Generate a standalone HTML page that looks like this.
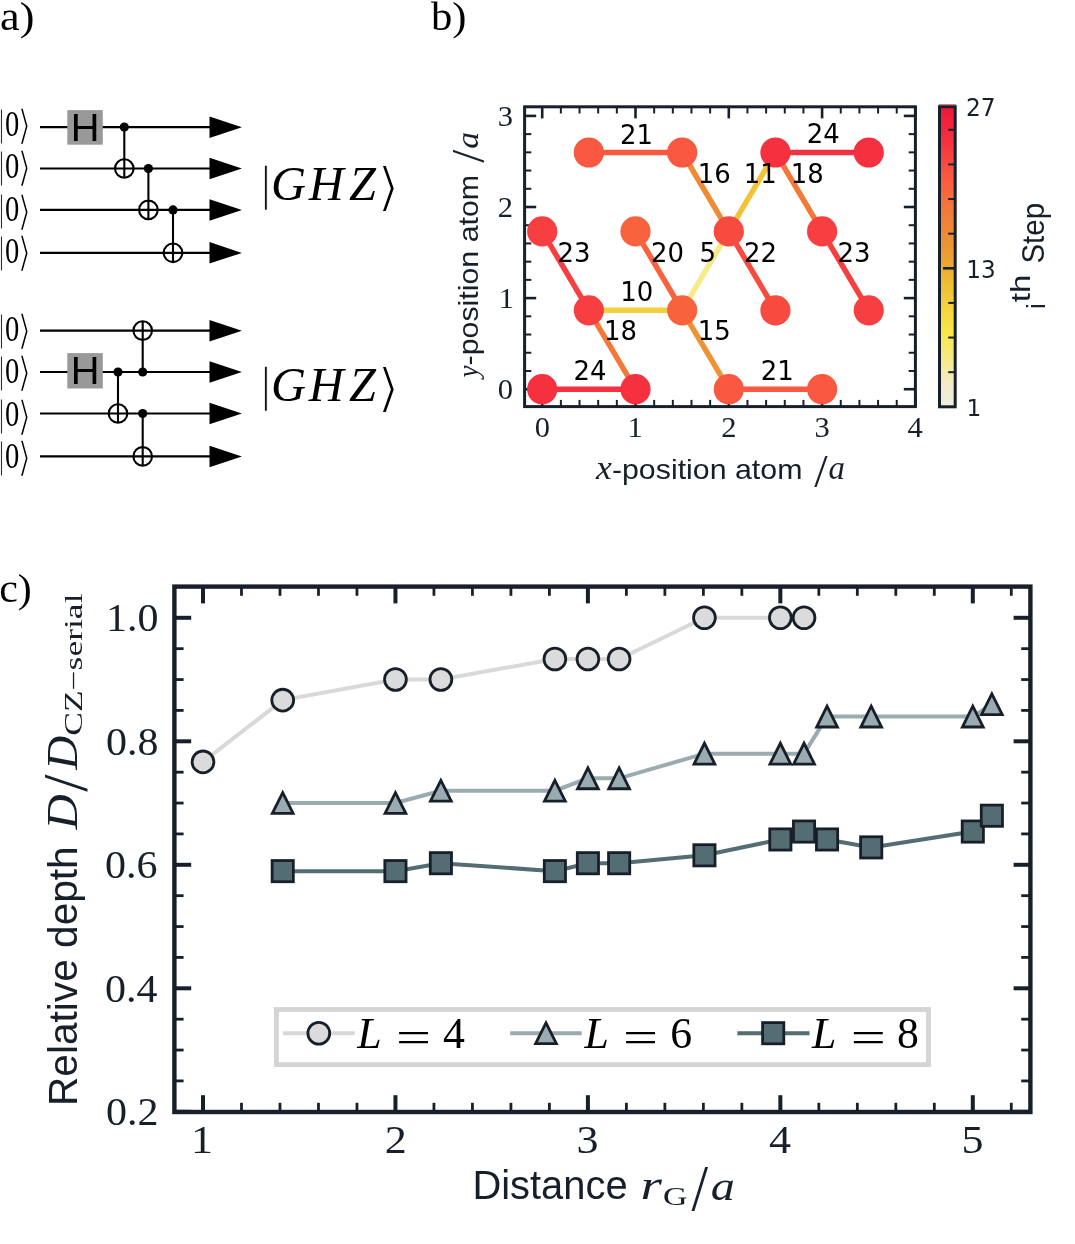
<!DOCTYPE html>
<html><head><meta charset="utf-8"><title>Figure</title>
<style>html,body{margin:0;padding:0;background:#fff;overflow:hidden;}svg{display:block;}</style></head>
<body><svg width="1075" height="1244" viewBox="0 0 1075 1244">
<rect width="1075" height="1244" fill="#fff"/>
<text transform="matrix(1.0793 0 0 1.0000 0.02 30.10)" x="0" y="0" font-family="'Liberation Serif', 'DejaVu Serif', serif" font-size="41" fill="#000">a)</text>
<text transform="matrix(1.0406 0 0 1.0000 431.00 29.80)" x="0" y="0" font-family="'Liberation Serif', 'DejaVu Serif', serif" font-size="41" fill="#000">b)</text>
<text transform="matrix(1.0250 0 0 1.0000 -0.85 601.70)" x="0" y="0" font-family="'Liberation Serif', 'DejaVu Serif', serif" font-size="41" fill="#000">c)</text>
<line x1="40.00" y1="127.10" x2="212.00" y2="127.10" stroke="#000" stroke-width="2.2" stroke-linecap="butt"/>
<polygon points="209.5,116.40 241.9,127.20 209.5,137.90" fill="#000"/>
<line x1="40.00" y1="168.50" x2="212.00" y2="168.50" stroke="#000" stroke-width="2.2" stroke-linecap="butt"/>
<polygon points="209.5,157.80 241.9,168.60 209.5,179.30" fill="#000"/>
<line x1="40.00" y1="209.90" x2="212.00" y2="209.90" stroke="#000" stroke-width="2.2" stroke-linecap="butt"/>
<polygon points="209.5,199.20 241.9,210.00 209.5,220.70" fill="#000"/>
<line x1="40.00" y1="252.80" x2="212.00" y2="252.80" stroke="#000" stroke-width="2.2" stroke-linecap="butt"/>
<polygon points="209.5,242.10 241.9,252.90 209.5,263.60" fill="#000"/>
<text transform="matrix(1.0710 0 0 1.0710 -2.21 135.90)" x="0" y="0" font-family="'Liberation Serif', 'DejaVu Serif', serif" font-size="36" fill="#000" stroke="#fff" stroke-width="0.9">|</text>
<text transform="matrix(0.7937 0 0 0.9667 4.91 135.80)" x="0" y="0" font-family="'Liberation Serif', 'DejaVu Serif', serif" font-size="36" fill="#000">0</text>
<text transform="matrix(1.0167 0 0 1.1367 17.13 139.15)" x="0" y="0" font-family="'Liberation Serif', 'DejaVu Serif', serif" font-size="36" fill="#000" stroke="#fff" stroke-width="1.3">⟩</text>
<text transform="matrix(1.0710 0 0 1.0710 -2.21 177.60)" x="0" y="0" font-family="'Liberation Serif', 'DejaVu Serif', serif" font-size="36" fill="#000" stroke="#fff" stroke-width="0.9">|</text>
<text transform="matrix(0.7937 0 0 0.9667 4.91 177.50)" x="0" y="0" font-family="'Liberation Serif', 'DejaVu Serif', serif" font-size="36" fill="#000">0</text>
<text transform="matrix(1.0167 0 0 1.1367 17.13 180.85)" x="0" y="0" font-family="'Liberation Serif', 'DejaVu Serif', serif" font-size="36" fill="#000" stroke="#fff" stroke-width="1.3">⟩</text>
<text transform="matrix(1.0710 0 0 1.0710 -2.21 221.30)" x="0" y="0" font-family="'Liberation Serif', 'DejaVu Serif', serif" font-size="36" fill="#000" stroke="#fff" stroke-width="0.9">|</text>
<text transform="matrix(0.7937 0 0 0.9667 4.91 221.20)" x="0" y="0" font-family="'Liberation Serif', 'DejaVu Serif', serif" font-size="36" fill="#000">0</text>
<text transform="matrix(1.0167 0 0 1.1367 17.13 224.55)" x="0" y="0" font-family="'Liberation Serif', 'DejaVu Serif', serif" font-size="36" fill="#000" stroke="#fff" stroke-width="1.3">⟩</text>
<text transform="matrix(1.0710 0 0 1.0710 -2.21 263.20)" x="0" y="0" font-family="'Liberation Serif', 'DejaVu Serif', serif" font-size="36" fill="#000" stroke="#fff" stroke-width="0.9">|</text>
<text transform="matrix(0.7937 0 0 0.9667 4.91 263.10)" x="0" y="0" font-family="'Liberation Serif', 'DejaVu Serif', serif" font-size="36" fill="#000">0</text>
<text transform="matrix(1.0167 0 0 1.1367 17.13 266.45)" x="0" y="0" font-family="'Liberation Serif', 'DejaVu Serif', serif" font-size="36" fill="#000" stroke="#fff" stroke-width="1.3">⟩</text>
<rect x="67.3" y="110.10" width="35.5" height="34.60" fill="#999999"/>
<text transform="matrix(1.0476 0 0 1.0000 70.86 141.00)" x="0" y="0" font-family="'Liberation Sans', 'DejaVu Sans', sans-serif" font-size="38" fill="#000">H</text>
<line x1="124.30" y1="127.10" x2="124.30" y2="177.80" stroke="#000" stroke-width="2.1" stroke-linecap="butt"/>
<circle cx="124.3" cy="127.10" r="4.6" fill="#000"/>
<circle cx="124.3" cy="168.50" r="9.3" fill="none" stroke="#000" stroke-width="2.1"/>
<line x1="148.40" y1="168.50" x2="148.40" y2="219.20" stroke="#000" stroke-width="2.1" stroke-linecap="butt"/>
<circle cx="148.4" cy="168.50" r="4.6" fill="#000"/>
<circle cx="148.4" cy="209.90" r="9.3" fill="none" stroke="#000" stroke-width="2.1"/>
<line x1="173.00" y1="209.90" x2="173.00" y2="262.10" stroke="#000" stroke-width="2.1" stroke-linecap="butt"/>
<circle cx="173" cy="209.90" r="4.6" fill="#000"/>
<circle cx="173" cy="252.80" r="9.3" fill="none" stroke="#000" stroke-width="2.1"/>
<text transform="matrix(1.0227 0 0 1.0227 260.91 200.27)" x="0" y="0" font-family="'Liberation Serif', 'DejaVu Serif', serif" font-size="48" fill="#000" stroke="#fff" stroke-width="0.7">|</text>
<text transform="matrix(1.0094 0 0 1.0094 0 200.00)" y="0" font-family="'Liberation Serif', 'DejaVu Serif', serif" font-size="48" fill="#000"><tspan x="268.46" font-style="italic">G</tspan><tspan x="305.93" font-style="italic">H</tspan><tspan x="345.75" font-style="italic">Z</tspan></text>
<text transform="matrix(1.2500 0 0 1.0976 376.65 205.01)" x="0" y="0" font-family="'Liberation Serif', 'DejaVu Serif', serif" font-size="48" fill="#000" stroke="#fff" stroke-width="1.6">⟩</text>
<line x1="40.00" y1="330.60" x2="212.00" y2="330.60" stroke="#000" stroke-width="2.2" stroke-linecap="butt"/>
<polygon points="209.5,319.90 241.9,330.70 209.5,341.40" fill="#000"/>
<line x1="40.00" y1="372.00" x2="212.00" y2="372.00" stroke="#000" stroke-width="2.2" stroke-linecap="butt"/>
<polygon points="209.5,361.30 241.9,372.10 209.5,382.80" fill="#000"/>
<line x1="40.00" y1="413.50" x2="212.00" y2="413.50" stroke="#000" stroke-width="2.2" stroke-linecap="butt"/>
<polygon points="209.5,402.80 241.9,413.60 209.5,424.30" fill="#000"/>
<line x1="40.00" y1="456.40" x2="212.00" y2="456.40" stroke="#000" stroke-width="2.2" stroke-linecap="butt"/>
<polygon points="209.5,445.70 241.9,456.50 209.5,467.20" fill="#000"/>
<text transform="matrix(1.0710 0 0 1.0710 -2.21 340.90)" x="0" y="0" font-family="'Liberation Serif', 'DejaVu Serif', serif" font-size="36" fill="#000" stroke="#fff" stroke-width="0.9">|</text>
<text transform="matrix(0.7937 0 0 0.9667 4.91 340.80)" x="0" y="0" font-family="'Liberation Serif', 'DejaVu Serif', serif" font-size="36" fill="#000">0</text>
<text transform="matrix(1.0167 0 0 1.1367 17.13 344.15)" x="0" y="0" font-family="'Liberation Serif', 'DejaVu Serif', serif" font-size="36" fill="#000" stroke="#fff" stroke-width="1.3">⟩</text>
<text transform="matrix(1.0710 0 0 1.0710 -2.21 382.60)" x="0" y="0" font-family="'Liberation Serif', 'DejaVu Serif', serif" font-size="36" fill="#000" stroke="#fff" stroke-width="0.9">|</text>
<text transform="matrix(0.7937 0 0 0.9667 4.91 382.50)" x="0" y="0" font-family="'Liberation Serif', 'DejaVu Serif', serif" font-size="36" fill="#000">0</text>
<text transform="matrix(1.0167 0 0 1.1367 17.13 385.85)" x="0" y="0" font-family="'Liberation Serif', 'DejaVu Serif', serif" font-size="36" fill="#000" stroke="#fff" stroke-width="1.3">⟩</text>
<text transform="matrix(1.0710 0 0 1.0710 -2.21 426.30)" x="0" y="0" font-family="'Liberation Serif', 'DejaVu Serif', serif" font-size="36" fill="#000" stroke="#fff" stroke-width="0.9">|</text>
<text transform="matrix(0.7937 0 0 0.9667 4.91 426.20)" x="0" y="0" font-family="'Liberation Serif', 'DejaVu Serif', serif" font-size="36" fill="#000">0</text>
<text transform="matrix(1.0167 0 0 1.1367 17.13 429.55)" x="0" y="0" font-family="'Liberation Serif', 'DejaVu Serif', serif" font-size="36" fill="#000" stroke="#fff" stroke-width="1.3">⟩</text>
<text transform="matrix(1.0710 0 0 1.0710 -2.21 468.20)" x="0" y="0" font-family="'Liberation Serif', 'DejaVu Serif', serif" font-size="36" fill="#000" stroke="#fff" stroke-width="0.9">|</text>
<text transform="matrix(0.7937 0 0 0.9667 4.91 468.10)" x="0" y="0" font-family="'Liberation Serif', 'DejaVu Serif', serif" font-size="36" fill="#000">0</text>
<text transform="matrix(1.0167 0 0 1.1367 17.13 471.45)" x="0" y="0" font-family="'Liberation Serif', 'DejaVu Serif', serif" font-size="36" fill="#000" stroke="#fff" stroke-width="1.3">⟩</text>
<rect x="67.3" y="353.10" width="35.5" height="35.40" fill="#999999"/>
<text transform="matrix(1.0476 0 0 1.0000 70.86 384.40)" x="0" y="0" font-family="'Liberation Sans', 'DejaVu Sans', sans-serif" font-size="38" fill="#000">H</text>
<line x1="118.00" y1="372.00" x2="118.00" y2="422.80" stroke="#000" stroke-width="2.1" stroke-linecap="butt"/>
<circle cx="118" cy="372.00" r="4.6" fill="#000"/>
<circle cx="118" cy="413.50" r="9.3" fill="none" stroke="#000" stroke-width="2.1"/>
<line x1="142.70" y1="372.00" x2="142.70" y2="321.30" stroke="#000" stroke-width="2.1" stroke-linecap="butt"/>
<circle cx="142.7" cy="372.00" r="4.6" fill="#000"/>
<circle cx="142.7" cy="330.60" r="9.3" fill="none" stroke="#000" stroke-width="2.1"/>
<line x1="142.70" y1="413.50" x2="142.70" y2="465.70" stroke="#000" stroke-width="2.1" stroke-linecap="butt"/>
<circle cx="142.7" cy="413.50" r="4.6" fill="#000"/>
<circle cx="142.7" cy="456.40" r="9.3" fill="none" stroke="#000" stroke-width="2.1"/>
<text transform="matrix(1.0227 0 0 1.0227 260.91 401.07)" x="0" y="0" font-family="'Liberation Serif', 'DejaVu Serif', serif" font-size="48" fill="#000" stroke="#fff" stroke-width="0.7">|</text>
<text transform="matrix(1.0094 0 0 1.0094 0 400.80)" y="0" font-family="'Liberation Serif', 'DejaVu Serif', serif" font-size="48" fill="#000"><tspan x="268.46" font-style="italic">G</tspan><tspan x="305.93" font-style="italic">H</tspan><tspan x="345.75" font-style="italic">Z</tspan></text>
<text transform="matrix(1.2500 0 0 1.0976 376.65 405.81)" x="0" y="0" font-family="'Liberation Serif', 'DejaVu Serif', serif" font-size="48" fill="#000" stroke="#fff" stroke-width="1.6">⟩</text>
<line x1="542.20" y1="406.60" x2="542.20" y2="395.00" stroke="#17202a" stroke-width="2.6" stroke-linecap="butt"/>
<line x1="542.20" y1="106.80" x2="542.20" y2="118.40" stroke="#17202a" stroke-width="2.6" stroke-linecap="butt"/>
<line x1="560.86" y1="406.60" x2="560.86" y2="399.90" stroke="#17202a" stroke-width="2" stroke-linecap="butt"/>
<line x1="560.86" y1="106.80" x2="560.86" y2="113.50" stroke="#17202a" stroke-width="2" stroke-linecap="butt"/>
<line x1="579.52" y1="406.60" x2="579.52" y2="399.90" stroke="#17202a" stroke-width="2" stroke-linecap="butt"/>
<line x1="579.52" y1="106.80" x2="579.52" y2="113.50" stroke="#17202a" stroke-width="2" stroke-linecap="butt"/>
<line x1="598.18" y1="406.60" x2="598.18" y2="399.90" stroke="#17202a" stroke-width="2" stroke-linecap="butt"/>
<line x1="598.18" y1="106.80" x2="598.18" y2="113.50" stroke="#17202a" stroke-width="2" stroke-linecap="butt"/>
<line x1="616.84" y1="406.60" x2="616.84" y2="399.90" stroke="#17202a" stroke-width="2" stroke-linecap="butt"/>
<line x1="616.84" y1="106.80" x2="616.84" y2="113.50" stroke="#17202a" stroke-width="2" stroke-linecap="butt"/>
<line x1="635.50" y1="406.60" x2="635.50" y2="395.00" stroke="#17202a" stroke-width="2.6" stroke-linecap="butt"/>
<line x1="635.50" y1="106.80" x2="635.50" y2="118.40" stroke="#17202a" stroke-width="2.6" stroke-linecap="butt"/>
<line x1="654.16" y1="406.60" x2="654.16" y2="399.90" stroke="#17202a" stroke-width="2" stroke-linecap="butt"/>
<line x1="654.16" y1="106.80" x2="654.16" y2="113.50" stroke="#17202a" stroke-width="2" stroke-linecap="butt"/>
<line x1="672.82" y1="406.60" x2="672.82" y2="399.90" stroke="#17202a" stroke-width="2" stroke-linecap="butt"/>
<line x1="672.82" y1="106.80" x2="672.82" y2="113.50" stroke="#17202a" stroke-width="2" stroke-linecap="butt"/>
<line x1="691.48" y1="406.60" x2="691.48" y2="399.90" stroke="#17202a" stroke-width="2" stroke-linecap="butt"/>
<line x1="691.48" y1="106.80" x2="691.48" y2="113.50" stroke="#17202a" stroke-width="2" stroke-linecap="butt"/>
<line x1="710.14" y1="406.60" x2="710.14" y2="399.90" stroke="#17202a" stroke-width="2" stroke-linecap="butt"/>
<line x1="710.14" y1="106.80" x2="710.14" y2="113.50" stroke="#17202a" stroke-width="2" stroke-linecap="butt"/>
<line x1="728.80" y1="406.60" x2="728.80" y2="395.00" stroke="#17202a" stroke-width="2.6" stroke-linecap="butt"/>
<line x1="728.80" y1="106.80" x2="728.80" y2="118.40" stroke="#17202a" stroke-width="2.6" stroke-linecap="butt"/>
<line x1="747.46" y1="406.60" x2="747.46" y2="399.90" stroke="#17202a" stroke-width="2" stroke-linecap="butt"/>
<line x1="747.46" y1="106.80" x2="747.46" y2="113.50" stroke="#17202a" stroke-width="2" stroke-linecap="butt"/>
<line x1="766.12" y1="406.60" x2="766.12" y2="399.90" stroke="#17202a" stroke-width="2" stroke-linecap="butt"/>
<line x1="766.12" y1="106.80" x2="766.12" y2="113.50" stroke="#17202a" stroke-width="2" stroke-linecap="butt"/>
<line x1="784.78" y1="406.60" x2="784.78" y2="399.90" stroke="#17202a" stroke-width="2" stroke-linecap="butt"/>
<line x1="784.78" y1="106.80" x2="784.78" y2="113.50" stroke="#17202a" stroke-width="2" stroke-linecap="butt"/>
<line x1="803.44" y1="406.60" x2="803.44" y2="399.90" stroke="#17202a" stroke-width="2" stroke-linecap="butt"/>
<line x1="803.44" y1="106.80" x2="803.44" y2="113.50" stroke="#17202a" stroke-width="2" stroke-linecap="butt"/>
<line x1="822.10" y1="406.60" x2="822.10" y2="395.00" stroke="#17202a" stroke-width="2.6" stroke-linecap="butt"/>
<line x1="822.10" y1="106.80" x2="822.10" y2="118.40" stroke="#17202a" stroke-width="2.6" stroke-linecap="butt"/>
<line x1="840.76" y1="406.60" x2="840.76" y2="399.90" stroke="#17202a" stroke-width="2" stroke-linecap="butt"/>
<line x1="840.76" y1="106.80" x2="840.76" y2="113.50" stroke="#17202a" stroke-width="2" stroke-linecap="butt"/>
<line x1="859.42" y1="406.60" x2="859.42" y2="399.90" stroke="#17202a" stroke-width="2" stroke-linecap="butt"/>
<line x1="859.42" y1="106.80" x2="859.42" y2="113.50" stroke="#17202a" stroke-width="2" stroke-linecap="butt"/>
<line x1="878.08" y1="406.60" x2="878.08" y2="399.90" stroke="#17202a" stroke-width="2" stroke-linecap="butt"/>
<line x1="878.08" y1="106.80" x2="878.08" y2="113.50" stroke="#17202a" stroke-width="2" stroke-linecap="butt"/>
<line x1="896.74" y1="406.60" x2="896.74" y2="399.90" stroke="#17202a" stroke-width="2" stroke-linecap="butt"/>
<line x1="896.74" y1="106.80" x2="896.74" y2="113.50" stroke="#17202a" stroke-width="2" stroke-linecap="butt"/>
<line x1="915.40" y1="406.60" x2="915.40" y2="395.00" stroke="#17202a" stroke-width="2.6" stroke-linecap="butt"/>
<line x1="915.40" y1="106.80" x2="915.40" y2="118.40" stroke="#17202a" stroke-width="2.6" stroke-linecap="butt"/>
<line x1="524.60" y1="389.20" x2="536.20" y2="389.20" stroke="#17202a" stroke-width="2.6" stroke-linecap="butt"/>
<line x1="915.40" y1="389.20" x2="903.80" y2="389.20" stroke="#17202a" stroke-width="2.6" stroke-linecap="butt"/>
<line x1="524.60" y1="370.98" x2="531.30" y2="370.98" stroke="#17202a" stroke-width="2" stroke-linecap="butt"/>
<line x1="915.40" y1="370.98" x2="908.70" y2="370.98" stroke="#17202a" stroke-width="2" stroke-linecap="butt"/>
<line x1="524.60" y1="352.76" x2="531.30" y2="352.76" stroke="#17202a" stroke-width="2" stroke-linecap="butt"/>
<line x1="915.40" y1="352.76" x2="908.70" y2="352.76" stroke="#17202a" stroke-width="2" stroke-linecap="butt"/>
<line x1="524.60" y1="334.54" x2="531.30" y2="334.54" stroke="#17202a" stroke-width="2" stroke-linecap="butt"/>
<line x1="915.40" y1="334.54" x2="908.70" y2="334.54" stroke="#17202a" stroke-width="2" stroke-linecap="butt"/>
<line x1="524.60" y1="316.32" x2="531.30" y2="316.32" stroke="#17202a" stroke-width="2" stroke-linecap="butt"/>
<line x1="915.40" y1="316.32" x2="908.70" y2="316.32" stroke="#17202a" stroke-width="2" stroke-linecap="butt"/>
<line x1="524.60" y1="298.10" x2="536.20" y2="298.10" stroke="#17202a" stroke-width="2.6" stroke-linecap="butt"/>
<line x1="915.40" y1="298.10" x2="903.80" y2="298.10" stroke="#17202a" stroke-width="2.6" stroke-linecap="butt"/>
<line x1="524.60" y1="279.88" x2="531.30" y2="279.88" stroke="#17202a" stroke-width="2" stroke-linecap="butt"/>
<line x1="915.40" y1="279.88" x2="908.70" y2="279.88" stroke="#17202a" stroke-width="2" stroke-linecap="butt"/>
<line x1="524.60" y1="261.66" x2="531.30" y2="261.66" stroke="#17202a" stroke-width="2" stroke-linecap="butt"/>
<line x1="915.40" y1="261.66" x2="908.70" y2="261.66" stroke="#17202a" stroke-width="2" stroke-linecap="butt"/>
<line x1="524.60" y1="243.44" x2="531.30" y2="243.44" stroke="#17202a" stroke-width="2" stroke-linecap="butt"/>
<line x1="915.40" y1="243.44" x2="908.70" y2="243.44" stroke="#17202a" stroke-width="2" stroke-linecap="butt"/>
<line x1="524.60" y1="225.22" x2="531.30" y2="225.22" stroke="#17202a" stroke-width="2" stroke-linecap="butt"/>
<line x1="915.40" y1="225.22" x2="908.70" y2="225.22" stroke="#17202a" stroke-width="2" stroke-linecap="butt"/>
<line x1="524.60" y1="207.00" x2="536.20" y2="207.00" stroke="#17202a" stroke-width="2.6" stroke-linecap="butt"/>
<line x1="915.40" y1="207.00" x2="903.80" y2="207.00" stroke="#17202a" stroke-width="2.6" stroke-linecap="butt"/>
<line x1="524.60" y1="188.78" x2="531.30" y2="188.78" stroke="#17202a" stroke-width="2" stroke-linecap="butt"/>
<line x1="915.40" y1="188.78" x2="908.70" y2="188.78" stroke="#17202a" stroke-width="2" stroke-linecap="butt"/>
<line x1="524.60" y1="170.56" x2="531.30" y2="170.56" stroke="#17202a" stroke-width="2" stroke-linecap="butt"/>
<line x1="915.40" y1="170.56" x2="908.70" y2="170.56" stroke="#17202a" stroke-width="2" stroke-linecap="butt"/>
<line x1="524.60" y1="152.34" x2="531.30" y2="152.34" stroke="#17202a" stroke-width="2" stroke-linecap="butt"/>
<line x1="915.40" y1="152.34" x2="908.70" y2="152.34" stroke="#17202a" stroke-width="2" stroke-linecap="butt"/>
<line x1="524.60" y1="134.12" x2="531.30" y2="134.12" stroke="#17202a" stroke-width="2" stroke-linecap="butt"/>
<line x1="915.40" y1="134.12" x2="908.70" y2="134.12" stroke="#17202a" stroke-width="2" stroke-linecap="butt"/>
<line x1="524.60" y1="115.90" x2="536.20" y2="115.90" stroke="#17202a" stroke-width="2.6" stroke-linecap="butt"/>
<line x1="915.40" y1="115.90" x2="903.80" y2="115.90" stroke="#17202a" stroke-width="2.6" stroke-linecap="butt"/>
<rect x="524.6" y="106.8" width="390.80" height="299.80" fill="none" stroke="#17202a" stroke-width="3"/>
<line x1="588.85" y1="152.52" x2="682.15" y2="152.52" stroke="#fa5840" stroke-width="5.5" stroke-linecap="butt"/>
<line x1="682.15" y1="152.52" x2="728.80" y2="231.41" stroke="#ee8b35" stroke-width="5.5" stroke-linecap="butt"/>
<line x1="728.80" y1="231.41" x2="775.45" y2="152.52" stroke="#f1c338" stroke-width="5.5" stroke-linecap="butt"/>
<line x1="775.45" y1="152.52" x2="868.75" y2="152.52" stroke="#f53140" stroke-width="5.5" stroke-linecap="butt"/>
<line x1="775.45" y1="152.52" x2="822.10" y2="231.41" stroke="#f37938" stroke-width="5.5" stroke-linecap="butt"/>
<line x1="542.20" y1="231.41" x2="588.85" y2="310.31" stroke="#f73e40" stroke-width="5.5" stroke-linecap="butt"/>
<line x1="635.50" y1="231.41" x2="682.15" y2="310.31" stroke="#f8633d" stroke-width="5.5" stroke-linecap="butt"/>
<line x1="682.15" y1="310.31" x2="728.80" y2="231.41" stroke="#f6ea89" stroke-width="5.5" stroke-linecap="butt"/>
<line x1="728.80" y1="231.41" x2="775.45" y2="310.31" stroke="#f84b40" stroke-width="5.5" stroke-linecap="butt"/>
<line x1="822.10" y1="231.41" x2="868.75" y2="310.31" stroke="#f73e40" stroke-width="5.5" stroke-linecap="butt"/>
<line x1="588.85" y1="310.31" x2="682.15" y2="310.31" stroke="#f4cf3d" stroke-width="5.5" stroke-linecap="butt"/>
<line x1="588.85" y1="310.31" x2="635.50" y2="389.20" stroke="#f37938" stroke-width="5.5" stroke-linecap="butt"/>
<line x1="682.15" y1="310.31" x2="728.80" y2="389.20" stroke="#ec9434" stroke-width="5.5" stroke-linecap="butt"/>
<line x1="542.20" y1="389.20" x2="635.50" y2="389.20" stroke="#f53140" stroke-width="5.5" stroke-linecap="butt"/>
<line x1="728.80" y1="389.20" x2="822.10" y2="389.20" stroke="#fa5840" stroke-width="5.5" stroke-linecap="butt"/>
<circle cx="588.85" cy="152.52" r="15.1" fill="#fa5840"/>
<circle cx="682.15" cy="152.52" r="15.1" fill="#fa5840"/>
<circle cx="728.80" cy="231.41" r="15.1" fill="#f84b40"/>
<circle cx="775.45" cy="152.52" r="15.1" fill="#f53140"/>
<circle cx="868.75" cy="152.52" r="15.1" fill="#f53140"/>
<circle cx="822.10" cy="231.41" r="15.1" fill="#f73e40"/>
<circle cx="542.20" cy="231.41" r="15.1" fill="#f73e40"/>
<circle cx="588.85" cy="310.31" r="15.1" fill="#f73e40"/>
<circle cx="635.50" cy="231.41" r="15.1" fill="#f8633d"/>
<circle cx="682.15" cy="310.31" r="15.1" fill="#f8633d"/>
<circle cx="775.45" cy="310.31" r="15.1" fill="#f84b40"/>
<circle cx="868.75" cy="310.31" r="15.1" fill="#f73e40"/>
<circle cx="635.50" cy="389.20" r="15.1" fill="#f53140"/>
<circle cx="728.80" cy="389.20" r="15.1" fill="#fa5840"/>
<circle cx="542.20" cy="389.20" r="15.1" fill="#f53140"/>
<circle cx="822.10" cy="389.20" r="15.1" fill="#fa5840"/>
<text transform="matrix(0.9500 0 0 1.0000 620.10 143.70)" x="0" y="0" font-family="'DejaVu Sans', 'Liberation Sans', sans-serif" font-size="27.3" fill="#000">21</text>
<text transform="matrix(0.9500 0 0 1.0000 697.75 182.60)" x="0" y="0" font-family="'DejaVu Sans', 'Liberation Sans', sans-serif" font-size="27.3" fill="#000">16</text>
<text transform="matrix(0.9500 0 0 1.0000 743.75 182.60)" x="0" y="0" font-family="'DejaVu Sans', 'Liberation Sans', sans-serif" font-size="27.3" fill="#000">11</text>
<text transform="matrix(0.9500 0 0 1.0000 790.65 182.60)" x="0" y="0" font-family="'DejaVu Sans', 'Liberation Sans', sans-serif" font-size="27.3" fill="#000">18</text>
<text transform="matrix(0.9500 0 0 1.0000 806.80 143.40)" x="0" y="0" font-family="'DejaVu Sans', 'Liberation Sans', sans-serif" font-size="27.3" fill="#000">24</text>
<text transform="matrix(0.9500 0 0 1.0000 557.60 261.60)" x="0" y="0" font-family="'DejaVu Sans', 'Liberation Sans', sans-serif" font-size="27.3" fill="#000">23</text>
<text transform="matrix(0.9500 0 0 1.0000 651.00 261.60)" x="0" y="0" font-family="'DejaVu Sans', 'Liberation Sans', sans-serif" font-size="27.3" fill="#000">20</text>
<text transform="matrix(0.9500 0 0 1.0000 699.50 261.80)" x="0" y="0" font-family="'DejaVu Sans', 'Liberation Sans', sans-serif" font-size="27.3" fill="#000">5</text>
<text transform="matrix(0.9500 0 0 1.0000 744.10 261.60)" x="0" y="0" font-family="'DejaVu Sans', 'Liberation Sans', sans-serif" font-size="27.3" fill="#000">22</text>
<text transform="matrix(0.9500 0 0 1.0000 837.50 261.60)" x="0" y="0" font-family="'DejaVu Sans', 'Liberation Sans', sans-serif" font-size="27.3" fill="#000">23</text>
<text transform="matrix(0.9500 0 0 1.0000 620.25 301.00)" x="0" y="0" font-family="'DejaVu Sans', 'Liberation Sans', sans-serif" font-size="27.3" fill="#000">10</text>
<text transform="matrix(0.9500 0 0 1.0000 604.05 340.40)" x="0" y="0" font-family="'DejaVu Sans', 'Liberation Sans', sans-serif" font-size="27.3" fill="#000">18</text>
<text transform="matrix(0.9500 0 0 1.0000 697.65 340.40)" x="0" y="0" font-family="'DejaVu Sans', 'Liberation Sans', sans-serif" font-size="27.3" fill="#000">15</text>
<text transform="matrix(0.9500 0 0 1.0000 573.60 379.60)" x="0" y="0" font-family="'DejaVu Sans', 'Liberation Sans', sans-serif" font-size="27.3" fill="#000">24</text>
<text transform="matrix(0.9500 0 0 1.0000 760.70 379.60)" x="0" y="0" font-family="'DejaVu Sans', 'Liberation Sans', sans-serif" font-size="27.3" fill="#000">21</text>
<text transform="matrix(1.0700 0 0 1.0000 534.71 436.80)" x="0" y="0" font-family="'Liberation Serif', 'DejaVu Serif', serif" font-size="28.5" fill="#17202a">0</text>
<text transform="matrix(1.0700 0 0 1.0000 627.48 436.80)" x="0" y="0" font-family="'Liberation Serif', 'DejaVu Serif', serif" font-size="28.5" fill="#17202a">1</text>
<text transform="matrix(1.0700 0 0 1.0000 721.31 436.80)" x="0" y="0" font-family="'Liberation Serif', 'DejaVu Serif', serif" font-size="28.5" fill="#17202a">2</text>
<text transform="matrix(1.0700 0 0 1.0000 814.61 436.80)" x="0" y="0" font-family="'Liberation Serif', 'DejaVu Serif', serif" font-size="28.5" fill="#17202a">3</text>
<text transform="matrix(1.0700 0 0 1.0000 907.38 436.80)" x="0" y="0" font-family="'Liberation Serif', 'DejaVu Serif', serif" font-size="28.5" fill="#17202a">4</text>
<text transform="matrix(1.0700 0 0 1.0000 497.69 399.00)" x="0" y="0" font-family="'Liberation Serif', 'DejaVu Serif', serif" font-size="28.5" fill="#17202a">0</text>
<text transform="matrix(1.0700 0 0 1.0000 498.76 307.90)" x="0" y="0" font-family="'Liberation Serif', 'DejaVu Serif', serif" font-size="28.5" fill="#17202a">1</text>
<text transform="matrix(1.0700 0 0 1.0000 497.69 216.80)" x="0" y="0" font-family="'Liberation Serif', 'DejaVu Serif', serif" font-size="28.5" fill="#17202a">2</text>
<text transform="matrix(1.0700 0 0 1.0000 497.69 125.70)" x="0" y="0" font-family="'Liberation Serif', 'DejaVu Serif', serif" font-size="28.5" fill="#17202a">3</text>
<text fill="#17202a" xml:space="preserve"><tspan x="596.00" y="479.30" font-family="'Liberation Serif', 'DejaVu Serif', serif" font-size="32.94" font-style="italic" textLength="15.90" lengthAdjust="spacingAndGlyphs">x</tspan><tspan x="611.92" y="479.30" font-family="'Liberation Sans', 'DejaVu Sans', sans-serif" font-size="28.00" font-style="normal" textLength="198.93" lengthAdjust="spacingAndGlyphs">-position atom </tspan><tspan x="814.30" y="486.50" font-family="'Liberation Serif', 'DejaVu Serif', serif" font-size="46.83" font-style="normal" textLength="13.34" lengthAdjust="spacingAndGlyphs">/</tspan><tspan x="828.43" y="479.30" font-family="'Liberation Serif', 'DejaVu Serif', serif" font-size="32.94" font-style="italic" textLength="16.43" lengthAdjust="spacingAndGlyphs">a</tspan></text>
<g transform="rotate(-90)"><text fill="#17202a" xml:space="preserve"><tspan x="-377.60" y="478.20" font-family="'Liberation Serif', 'DejaVu Serif', serif" font-size="30.01" font-style="italic" textLength="12.07" lengthAdjust="spacingAndGlyphs">y</tspan><tspan x="-365.48" y="478.20" font-family="'Liberation Sans', 'DejaVu Sans', sans-serif" font-size="28.00" font-style="normal" textLength="199.03" lengthAdjust="spacingAndGlyphs">-position atom </tspan><tspan x="-162.70" y="484.40" font-family="'Liberation Serif', 'DejaVu Serif', serif" font-size="46.83" font-style="normal" textLength="12.92" lengthAdjust="spacingAndGlyphs">/</tspan><tspan x="-148.89" y="478.20" font-family="'Liberation Serif', 'DejaVu Serif', serif" font-size="30.81" font-style="italic" textLength="16.89" lengthAdjust="spacingAndGlyphs">a</tspan></text></g>
<defs><linearGradient id="cb" x1="0" y1="0" x2="0" y2="1"><stop offset="0.000" stop-color="#ee1638"/><stop offset="0.025" stop-color="#ef1c3a"/><stop offset="0.050" stop-color="#f1223b"/><stop offset="0.075" stop-color="#f2273d"/><stop offset="0.100" stop-color="#f42d3f"/><stop offset="0.125" stop-color="#f53440"/><stop offset="0.150" stop-color="#f63c40"/><stop offset="0.175" stop-color="#f84540"/><stop offset="0.200" stop-color="#f94e40"/><stop offset="0.225" stop-color="#fa5640"/><stop offset="0.250" stop-color="#f95e3f"/><stop offset="0.275" stop-color="#f7653d"/><stop offset="0.300" stop-color="#f66c3b"/><stop offset="0.325" stop-color="#f4733a"/><stop offset="0.350" stop-color="#f37a38"/><stop offset="0.375" stop-color="#f18037"/><stop offset="0.400" stop-color="#f08636"/><stop offset="0.425" stop-color="#ee8c35"/><stop offset="0.450" stop-color="#ed9234"/><stop offset="0.475" stop-color="#ec9833"/><stop offset="0.500" stop-color="#eca032"/><stop offset="0.525" stop-color="#eca831"/><stop offset="0.550" stop-color="#edaf31"/><stop offset="0.575" stop-color="#efb734"/><stop offset="0.600" stop-color="#f0bf37"/><stop offset="0.625" stop-color="#f2c639"/><stop offset="0.650" stop-color="#f4ce3c"/><stop offset="0.675" stop-color="#f5d440"/><stop offset="0.700" stop-color="#f6da43"/><stop offset="0.725" stop-color="#f7e046"/><stop offset="0.750" stop-color="#f8e64a"/><stop offset="0.775" stop-color="#f8e75b"/><stop offset="0.800" stop-color="#f7e86b"/><stop offset="0.825" stop-color="#f6e97b"/><stop offset="0.850" stop-color="#f6ea8c"/><stop offset="0.875" stop-color="#f5eba1"/><stop offset="0.900" stop-color="#f3ebb7"/><stop offset="0.925" stop-color="#f2ecca"/><stop offset="0.950" stop-color="#f1ecd1"/><stop offset="0.975" stop-color="#f1ecd8"/><stop offset="1.000" stop-color="#f0ece0"/></linearGradient></defs>
<rect x="939.5" y="106.7" width="15.70" height="300.1" fill="url(#cb)"/>
<rect x="938.8" y="104" width="17.2" height="1" fill="#f7707c"/>
<line x1="955.20" y1="372.17" x2="948.20" y2="372.17" stroke="#17202a" stroke-width="2" stroke-linecap="butt"/>
<line x1="955.20" y1="337.55" x2="948.20" y2="337.55" stroke="#17202a" stroke-width="2" stroke-linecap="butt"/>
<line x1="955.20" y1="302.92" x2="948.20" y2="302.92" stroke="#17202a" stroke-width="2" stroke-linecap="butt"/>
<line x1="955.20" y1="233.67" x2="948.20" y2="233.67" stroke="#17202a" stroke-width="2" stroke-linecap="butt"/>
<line x1="955.20" y1="199.04" x2="948.20" y2="199.04" stroke="#17202a" stroke-width="2" stroke-linecap="butt"/>
<line x1="955.20" y1="164.41" x2="948.20" y2="164.41" stroke="#17202a" stroke-width="2" stroke-linecap="butt"/>
<line x1="955.20" y1="129.78" x2="948.20" y2="129.78" stroke="#17202a" stroke-width="2" stroke-linecap="butt"/>
<line x1="955.20" y1="268.29" x2="943.00" y2="268.29" stroke="#17202a" stroke-width="2.6" stroke-linecap="butt"/>
<rect x="939.5" y="106.7" width="15.700000000000045" height="300.1" fill="none" stroke="#17202a" stroke-width="3"/>
<text transform="matrix(0.9034 0 0 0.9400 965.99 116.40)" x="0" y="0" font-family="'DejaVu Sans', 'Liberation Sans', sans-serif" font-size="25.8" fill="#17202a">27</text>
<text transform="matrix(0.8964 0 0 0.9350 966.21 277.80)" x="0" y="0" font-family="'DejaVu Sans', 'Liberation Sans', sans-serif" font-size="25.8" fill="#17202a">13</text>
<text transform="matrix(0.9000 0 0 0.8900 966.40 415.80)" x="0" y="0" font-family="'DejaVu Sans', 'Liberation Sans', sans-serif" font-size="25.8" fill="#17202a">1</text>
<text transform="rotate(-90) matrix(1.0161 0 0 1.0731 -263.53 1044.16)" x="0" y="0" font-family="'Liberation Sans', 'DejaVu Sans', sans-serif" font-size="29" fill="#17202a">Step</text>
<text transform="rotate(-90) matrix(1.1429 0 0 0.9636 -302.14 1029.90)" x="0" y="0" font-family="'Liberation Sans', 'DejaVu Sans', sans-serif" font-size="29" fill="#17202a">th</text>
<text transform="rotate(-90) matrix(0.9182 0 0 0.9182 -309.04 1044.80)" x="0" y="0" font-family="'Liberation Sans', 'DejaVu Sans', sans-serif" font-size="29" fill="#17202a">i</text>
<line x1="203.00" y1="1112.00" x2="203.00" y2="1095.20" stroke="#17202a" stroke-width="4.0" stroke-linecap="butt"/>
<line x1="203.00" y1="586.60" x2="203.00" y2="603.40" stroke="#17202a" stroke-width="4.0" stroke-linecap="butt"/>
<line x1="241.49" y1="1112.00" x2="241.49" y2="1102.80" stroke="#17202a" stroke-width="2.8" stroke-linecap="butt"/>
<line x1="241.49" y1="586.60" x2="241.49" y2="595.80" stroke="#17202a" stroke-width="2.8" stroke-linecap="butt"/>
<line x1="279.98" y1="1112.00" x2="279.98" y2="1102.80" stroke="#17202a" stroke-width="2.8" stroke-linecap="butt"/>
<line x1="279.98" y1="586.60" x2="279.98" y2="595.80" stroke="#17202a" stroke-width="2.8" stroke-linecap="butt"/>
<line x1="318.47" y1="1112.00" x2="318.47" y2="1102.80" stroke="#17202a" stroke-width="2.8" stroke-linecap="butt"/>
<line x1="318.47" y1="586.60" x2="318.47" y2="595.80" stroke="#17202a" stroke-width="2.8" stroke-linecap="butt"/>
<line x1="356.96" y1="1112.00" x2="356.96" y2="1102.80" stroke="#17202a" stroke-width="2.8" stroke-linecap="butt"/>
<line x1="356.96" y1="586.60" x2="356.96" y2="595.80" stroke="#17202a" stroke-width="2.8" stroke-linecap="butt"/>
<line x1="395.45" y1="1112.00" x2="395.45" y2="1095.20" stroke="#17202a" stroke-width="4.0" stroke-linecap="butt"/>
<line x1="395.45" y1="586.60" x2="395.45" y2="603.40" stroke="#17202a" stroke-width="4.0" stroke-linecap="butt"/>
<line x1="433.94" y1="1112.00" x2="433.94" y2="1102.80" stroke="#17202a" stroke-width="2.8" stroke-linecap="butt"/>
<line x1="433.94" y1="586.60" x2="433.94" y2="595.80" stroke="#17202a" stroke-width="2.8" stroke-linecap="butt"/>
<line x1="472.43" y1="1112.00" x2="472.43" y2="1102.80" stroke="#17202a" stroke-width="2.8" stroke-linecap="butt"/>
<line x1="472.43" y1="586.60" x2="472.43" y2="595.80" stroke="#17202a" stroke-width="2.8" stroke-linecap="butt"/>
<line x1="510.92" y1="1112.00" x2="510.92" y2="1102.80" stroke="#17202a" stroke-width="2.8" stroke-linecap="butt"/>
<line x1="510.92" y1="586.60" x2="510.92" y2="595.80" stroke="#17202a" stroke-width="2.8" stroke-linecap="butt"/>
<line x1="549.41" y1="1112.00" x2="549.41" y2="1102.80" stroke="#17202a" stroke-width="2.8" stroke-linecap="butt"/>
<line x1="549.41" y1="586.60" x2="549.41" y2="595.80" stroke="#17202a" stroke-width="2.8" stroke-linecap="butt"/>
<line x1="587.90" y1="1112.00" x2="587.90" y2="1095.20" stroke="#17202a" stroke-width="4.0" stroke-linecap="butt"/>
<line x1="587.90" y1="586.60" x2="587.90" y2="603.40" stroke="#17202a" stroke-width="4.0" stroke-linecap="butt"/>
<line x1="626.39" y1="1112.00" x2="626.39" y2="1102.80" stroke="#17202a" stroke-width="2.8" stroke-linecap="butt"/>
<line x1="626.39" y1="586.60" x2="626.39" y2="595.80" stroke="#17202a" stroke-width="2.8" stroke-linecap="butt"/>
<line x1="664.88" y1="1112.00" x2="664.88" y2="1102.80" stroke="#17202a" stroke-width="2.8" stroke-linecap="butt"/>
<line x1="664.88" y1="586.60" x2="664.88" y2="595.80" stroke="#17202a" stroke-width="2.8" stroke-linecap="butt"/>
<line x1="703.37" y1="1112.00" x2="703.37" y2="1102.80" stroke="#17202a" stroke-width="2.8" stroke-linecap="butt"/>
<line x1="703.37" y1="586.60" x2="703.37" y2="595.80" stroke="#17202a" stroke-width="2.8" stroke-linecap="butt"/>
<line x1="741.86" y1="1112.00" x2="741.86" y2="1102.80" stroke="#17202a" stroke-width="2.8" stroke-linecap="butt"/>
<line x1="741.86" y1="586.60" x2="741.86" y2="595.80" stroke="#17202a" stroke-width="2.8" stroke-linecap="butt"/>
<line x1="780.35" y1="1112.00" x2="780.35" y2="1095.20" stroke="#17202a" stroke-width="4.0" stroke-linecap="butt"/>
<line x1="780.35" y1="586.60" x2="780.35" y2="603.40" stroke="#17202a" stroke-width="4.0" stroke-linecap="butt"/>
<line x1="818.84" y1="1112.00" x2="818.84" y2="1102.80" stroke="#17202a" stroke-width="2.8" stroke-linecap="butt"/>
<line x1="818.84" y1="586.60" x2="818.84" y2="595.80" stroke="#17202a" stroke-width="2.8" stroke-linecap="butt"/>
<line x1="857.33" y1="1112.00" x2="857.33" y2="1102.80" stroke="#17202a" stroke-width="2.8" stroke-linecap="butt"/>
<line x1="857.33" y1="586.60" x2="857.33" y2="595.80" stroke="#17202a" stroke-width="2.8" stroke-linecap="butt"/>
<line x1="895.82" y1="1112.00" x2="895.82" y2="1102.80" stroke="#17202a" stroke-width="2.8" stroke-linecap="butt"/>
<line x1="895.82" y1="586.60" x2="895.82" y2="595.80" stroke="#17202a" stroke-width="2.8" stroke-linecap="butt"/>
<line x1="934.31" y1="1112.00" x2="934.31" y2="1102.80" stroke="#17202a" stroke-width="2.8" stroke-linecap="butt"/>
<line x1="934.31" y1="586.60" x2="934.31" y2="595.80" stroke="#17202a" stroke-width="2.8" stroke-linecap="butt"/>
<line x1="972.80" y1="1112.00" x2="972.80" y2="1095.20" stroke="#17202a" stroke-width="4.0" stroke-linecap="butt"/>
<line x1="972.80" y1="586.60" x2="972.80" y2="603.40" stroke="#17202a" stroke-width="4.0" stroke-linecap="butt"/>
<line x1="1011.29" y1="1112.00" x2="1011.29" y2="1102.80" stroke="#17202a" stroke-width="2.8" stroke-linecap="butt"/>
<line x1="1011.29" y1="586.60" x2="1011.29" y2="595.80" stroke="#17202a" stroke-width="2.8" stroke-linecap="butt"/>
<line x1="174.40" y1="1111.80" x2="191.20" y2="1111.80" stroke="#17202a" stroke-width="4.0" stroke-linecap="butt"/>
<line x1="1030.40" y1="1111.80" x2="1013.60" y2="1111.80" stroke="#17202a" stroke-width="4.0" stroke-linecap="butt"/>
<line x1="174.40" y1="1080.92" x2="183.60" y2="1080.92" stroke="#17202a" stroke-width="2.8" stroke-linecap="butt"/>
<line x1="1030.40" y1="1080.92" x2="1021.20" y2="1080.92" stroke="#17202a" stroke-width="2.8" stroke-linecap="butt"/>
<line x1="174.40" y1="1050.05" x2="183.60" y2="1050.05" stroke="#17202a" stroke-width="2.8" stroke-linecap="butt"/>
<line x1="1030.40" y1="1050.05" x2="1021.20" y2="1050.05" stroke="#17202a" stroke-width="2.8" stroke-linecap="butt"/>
<line x1="174.40" y1="1019.17" x2="183.60" y2="1019.17" stroke="#17202a" stroke-width="2.8" stroke-linecap="butt"/>
<line x1="1030.40" y1="1019.17" x2="1021.20" y2="1019.17" stroke="#17202a" stroke-width="2.8" stroke-linecap="butt"/>
<line x1="174.40" y1="988.30" x2="191.20" y2="988.30" stroke="#17202a" stroke-width="4.0" stroke-linecap="butt"/>
<line x1="1030.40" y1="988.30" x2="1013.60" y2="988.30" stroke="#17202a" stroke-width="4.0" stroke-linecap="butt"/>
<line x1="174.40" y1="957.42" x2="183.60" y2="957.42" stroke="#17202a" stroke-width="2.8" stroke-linecap="butt"/>
<line x1="1030.40" y1="957.42" x2="1021.20" y2="957.42" stroke="#17202a" stroke-width="2.8" stroke-linecap="butt"/>
<line x1="174.40" y1="926.55" x2="183.60" y2="926.55" stroke="#17202a" stroke-width="2.8" stroke-linecap="butt"/>
<line x1="1030.40" y1="926.55" x2="1021.20" y2="926.55" stroke="#17202a" stroke-width="2.8" stroke-linecap="butt"/>
<line x1="174.40" y1="895.67" x2="183.60" y2="895.67" stroke="#17202a" stroke-width="2.8" stroke-linecap="butt"/>
<line x1="1030.40" y1="895.67" x2="1021.20" y2="895.67" stroke="#17202a" stroke-width="2.8" stroke-linecap="butt"/>
<line x1="174.40" y1="864.80" x2="191.20" y2="864.80" stroke="#17202a" stroke-width="4.0" stroke-linecap="butt"/>
<line x1="1030.40" y1="864.80" x2="1013.60" y2="864.80" stroke="#17202a" stroke-width="4.0" stroke-linecap="butt"/>
<line x1="174.40" y1="833.92" x2="183.60" y2="833.92" stroke="#17202a" stroke-width="2.8" stroke-linecap="butt"/>
<line x1="1030.40" y1="833.92" x2="1021.20" y2="833.92" stroke="#17202a" stroke-width="2.8" stroke-linecap="butt"/>
<line x1="174.40" y1="803.05" x2="183.60" y2="803.05" stroke="#17202a" stroke-width="2.8" stroke-linecap="butt"/>
<line x1="1030.40" y1="803.05" x2="1021.20" y2="803.05" stroke="#17202a" stroke-width="2.8" stroke-linecap="butt"/>
<line x1="174.40" y1="772.17" x2="183.60" y2="772.17" stroke="#17202a" stroke-width="2.8" stroke-linecap="butt"/>
<line x1="1030.40" y1="772.17" x2="1021.20" y2="772.17" stroke="#17202a" stroke-width="2.8" stroke-linecap="butt"/>
<line x1="174.40" y1="741.30" x2="191.20" y2="741.30" stroke="#17202a" stroke-width="4.0" stroke-linecap="butt"/>
<line x1="1030.40" y1="741.30" x2="1013.60" y2="741.30" stroke="#17202a" stroke-width="4.0" stroke-linecap="butt"/>
<line x1="174.40" y1="710.42" x2="183.60" y2="710.42" stroke="#17202a" stroke-width="2.8" stroke-linecap="butt"/>
<line x1="1030.40" y1="710.42" x2="1021.20" y2="710.42" stroke="#17202a" stroke-width="2.8" stroke-linecap="butt"/>
<line x1="174.40" y1="679.55" x2="183.60" y2="679.55" stroke="#17202a" stroke-width="2.8" stroke-linecap="butt"/>
<line x1="1030.40" y1="679.55" x2="1021.20" y2="679.55" stroke="#17202a" stroke-width="2.8" stroke-linecap="butt"/>
<line x1="174.40" y1="648.67" x2="183.60" y2="648.67" stroke="#17202a" stroke-width="2.8" stroke-linecap="butt"/>
<line x1="1030.40" y1="648.67" x2="1021.20" y2="648.67" stroke="#17202a" stroke-width="2.8" stroke-linecap="butt"/>
<line x1="174.40" y1="617.80" x2="191.20" y2="617.80" stroke="#17202a" stroke-width="4.0" stroke-linecap="butt"/>
<line x1="1030.40" y1="617.80" x2="1013.60" y2="617.80" stroke="#17202a" stroke-width="4.0" stroke-linecap="butt"/>
<polyline points="203.00,761.88 282.72,700.13 395.45,679.55 440.88,679.55 554.88,658.97 587.90,658.97 619.13,658.97 704.44,617.80 780.35,617.80 804.04,617.80" fill="none" stroke="#dad9d9" stroke-width="4"/>
<polyline points="282.72,803.05 395.45,803.05 440.88,790.70 554.88,790.70 587.90,778.35 619.13,778.35 704.44,753.65 780.35,753.65 804.04,753.65 827.05,716.60 871.21,716.60 972.80,716.60 991.86,704.25" fill="none" stroke="#9aabb1" stroke-width="4"/>
<polyline points="282.72,871.13 395.45,871.13 440.88,863.22 554.88,871.13 587.90,863.22 619.13,863.22 704.44,855.30 780.35,839.47 804.04,831.55 827.05,839.47 871.21,847.38 972.80,831.55 991.86,815.72" fill="none" stroke="#546d72" stroke-width="4"/>
<circle cx="203.00" cy="761.88" r="10.9" fill="#dcdbdb" stroke="#17202a" stroke-width="2.8"/>
<circle cx="282.72" cy="700.13" r="10.9" fill="#dcdbdb" stroke="#17202a" stroke-width="2.8"/>
<circle cx="395.45" cy="679.55" r="10.9" fill="#dcdbdb" stroke="#17202a" stroke-width="2.8"/>
<circle cx="440.88" cy="679.55" r="10.9" fill="#dcdbdb" stroke="#17202a" stroke-width="2.8"/>
<circle cx="554.88" cy="658.97" r="10.9" fill="#dcdbdb" stroke="#17202a" stroke-width="2.8"/>
<circle cx="587.90" cy="658.97" r="10.9" fill="#dcdbdb" stroke="#17202a" stroke-width="2.8"/>
<circle cx="619.13" cy="658.97" r="10.9" fill="#dcdbdb" stroke="#17202a" stroke-width="2.8"/>
<circle cx="704.44" cy="617.80" r="10.9" fill="#dcdbdb" stroke="#17202a" stroke-width="2.8"/>
<circle cx="780.35" cy="617.80" r="10.9" fill="#dcdbdb" stroke="#17202a" stroke-width="2.8"/>
<circle cx="804.04" cy="617.80" r="10.9" fill="#dcdbdb" stroke="#17202a" stroke-width="2.8"/>
<polygon points="282.72,792.65 293.12,813.45 272.32,813.45" fill="#9aabb1" stroke="#17202a" stroke-width="2.8"/>
<polygon points="395.45,792.65 405.85,813.45 385.05,813.45" fill="#9aabb1" stroke="#17202a" stroke-width="2.8"/>
<polygon points="440.88,780.30 451.28,801.10 430.48,801.10" fill="#9aabb1" stroke="#17202a" stroke-width="2.8"/>
<polygon points="554.88,780.30 565.28,801.10 544.48,801.10" fill="#9aabb1" stroke="#17202a" stroke-width="2.8"/>
<polygon points="587.90,767.95 598.30,788.75 577.50,788.75" fill="#9aabb1" stroke="#17202a" stroke-width="2.8"/>
<polygon points="619.13,767.95 629.53,788.75 608.73,788.75" fill="#9aabb1" stroke="#17202a" stroke-width="2.8"/>
<polygon points="704.44,743.25 714.84,764.05 694.04,764.05" fill="#9aabb1" stroke="#17202a" stroke-width="2.8"/>
<polygon points="780.35,743.25 790.75,764.05 769.95,764.05" fill="#9aabb1" stroke="#17202a" stroke-width="2.8"/>
<polygon points="804.04,743.25 814.44,764.05 793.64,764.05" fill="#9aabb1" stroke="#17202a" stroke-width="2.8"/>
<polygon points="827.05,706.20 837.45,727.00 816.65,727.00" fill="#9aabb1" stroke="#17202a" stroke-width="2.8"/>
<polygon points="871.21,706.20 881.61,727.00 860.81,727.00" fill="#9aabb1" stroke="#17202a" stroke-width="2.8"/>
<polygon points="972.80,706.20 983.20,727.00 962.40,727.00" fill="#9aabb1" stroke="#17202a" stroke-width="2.8"/>
<polygon points="991.86,693.85 1002.26,714.65 981.46,714.65" fill="#9aabb1" stroke="#17202a" stroke-width="2.8"/>
<rect x="272.12" y="860.53" width="21.2" height="21.2" fill="#546d72" stroke="#17202a" stroke-width="2.8"/>
<rect x="384.85" y="860.53" width="21.2" height="21.2" fill="#546d72" stroke="#17202a" stroke-width="2.8"/>
<rect x="430.28" y="852.62" width="21.2" height="21.2" fill="#546d72" stroke="#17202a" stroke-width="2.8"/>
<rect x="544.28" y="860.53" width="21.2" height="21.2" fill="#546d72" stroke="#17202a" stroke-width="2.8"/>
<rect x="577.30" y="852.62" width="21.2" height="21.2" fill="#546d72" stroke="#17202a" stroke-width="2.8"/>
<rect x="608.53" y="852.62" width="21.2" height="21.2" fill="#546d72" stroke="#17202a" stroke-width="2.8"/>
<rect x="693.84" y="844.70" width="21.2" height="21.2" fill="#546d72" stroke="#17202a" stroke-width="2.8"/>
<rect x="769.75" y="828.87" width="21.2" height="21.2" fill="#546d72" stroke="#17202a" stroke-width="2.8"/>
<rect x="793.44" y="820.95" width="21.2" height="21.2" fill="#546d72" stroke="#17202a" stroke-width="2.8"/>
<rect x="816.45" y="828.87" width="21.2" height="21.2" fill="#546d72" stroke="#17202a" stroke-width="2.8"/>
<rect x="860.61" y="836.78" width="21.2" height="21.2" fill="#546d72" stroke="#17202a" stroke-width="2.8"/>
<rect x="962.20" y="820.95" width="21.2" height="21.2" fill="#546d72" stroke="#17202a" stroke-width="2.8"/>
<rect x="981.26" y="805.12" width="21.2" height="21.2" fill="#546d72" stroke="#17202a" stroke-width="2.8"/>
<rect x="174.4" y="586.6" width="856.00" height="525.40" fill="none" stroke="#17202a" stroke-width="4.4"/>
<text transform="matrix(1.0800 0 0 1.0000 191.12 1153.20)" x="0" y="0" font-family="'Liberation Serif', 'DejaVu Serif', serif" font-size="40.8" fill="#17202a">1</text>
<text transform="matrix(1.0800 0 0 1.0000 384.65 1153.20)" x="0" y="0" font-family="'Liberation Serif', 'DejaVu Serif', serif" font-size="40.8" fill="#17202a">2</text>
<text transform="matrix(1.0800 0 0 1.0000 576.56 1153.20)" x="0" y="0" font-family="'Liberation Serif', 'DejaVu Serif', serif" font-size="40.8" fill="#17202a">3</text>
<text transform="matrix(1.0800 0 0 1.0000 769.01 1153.20)" x="0" y="0" font-family="'Liberation Serif', 'DejaVu Serif', serif" font-size="40.8" fill="#17202a">4</text>
<text transform="matrix(1.0800 0 0 1.0000 961.46 1153.20)" x="0" y="0" font-family="'Liberation Serif', 'DejaVu Serif', serif" font-size="40.8" fill="#17202a">5</text>
<text transform="matrix(1.0300 0 0 1.0000 105.93 1125.30)" x="0" y="0" font-family="'Liberation Serif', 'DejaVu Serif', serif" font-size="40.8" fill="#17202a">0.2</text>
<text transform="matrix(1.0300 0 0 1.0000 104.90 1001.80)" x="0" y="0" font-family="'Liberation Serif', 'DejaVu Serif', serif" font-size="40.8" fill="#17202a">0.4</text>
<text transform="matrix(1.0300 0 0 1.0000 104.90 878.30)" x="0" y="0" font-family="'Liberation Serif', 'DejaVu Serif', serif" font-size="40.8" fill="#17202a">0.6</text>
<text transform="matrix(1.0300 0 0 1.0000 105.93 754.80)" x="0" y="0" font-family="'Liberation Serif', 'DejaVu Serif', serif" font-size="40.8" fill="#17202a">0.8</text>
<text transform="matrix(1.0300 0 0 1.0000 105.93 631.30)" x="0" y="0" font-family="'Liberation Serif', 'DejaVu Serif', serif" font-size="40.8" fill="#17202a">1.0</text>
<rect x="276.4" y="1009.5" width="652.1" height="55.1" fill="#fff" stroke="#d4d4d4" stroke-width="4.8"/>
<line x1="283.00" y1="1033.20" x2="354.80" y2="1033.20" stroke="#dad9d9" stroke-width="4" stroke-linecap="butt"/>
<circle cx="318.80" cy="1033.20" r="10.9" fill="#dcdbdb" stroke="#17202a" stroke-width="2.8"/>
<text transform="matrix(1.0000 0 0 1.0000 0 1047.70)" y="0" font-family="'Liberation Serif', 'DejaVu Serif', serif" font-size="43.8" fill="#000"><tspan x="357.20" font-style="italic">L</tspan><tspan x="442.90" font-style="normal">4</tspan></text>
<text transform="matrix(1.4190 0 0 1.0182 396.06 1051.86)" x="0" y="0" font-family="'Liberation Serif', 'DejaVu Serif', serif" font-size="43.8" fill="#000">=</text>
<line x1="510.20" y1="1033.20" x2="581.70" y2="1033.20" stroke="#9aabb1" stroke-width="4" stroke-linecap="butt"/>
<polygon points="546.00,1022.80 556.40,1043.60 535.60,1043.60" fill="#9aabb1" stroke="#17202a" stroke-width="2.8"/>
<text transform="matrix(1.0000 0 0 1.0000 0 1047.70)" y="0" font-family="'Liberation Serif', 'DejaVu Serif', serif" font-size="43.8" fill="#000"><tspan x="584.60" font-style="italic">L</tspan><tspan x="670.20" font-style="normal">6</tspan></text>
<text transform="matrix(1.4190 0 0 1.0182 622.96 1051.86)" x="0" y="0" font-family="'Liberation Serif', 'DejaVu Serif', serif" font-size="43.8" fill="#000">=</text>
<line x1="737.40" y1="1033.20" x2="809.50" y2="1033.20" stroke="#546d72" stroke-width="4" stroke-linecap="butt"/>
<rect x="762.60" y="1022.60" width="21.2" height="21.2" fill="#546d72" stroke="#17202a" stroke-width="2.8"/>
<text transform="matrix(1.0000 0 0 1.0000 0 1047.70)" y="0" font-family="'Liberation Serif', 'DejaVu Serif', serif" font-size="43.8" fill="#000"><tspan x="811.90" font-style="italic">L</tspan><tspan x="897.00" font-style="normal">8</tspan></text>
<text transform="matrix(1.4190 0 0 1.0182 850.66 1051.86)" x="0" y="0" font-family="'Liberation Serif', 'DejaVu Serif', serif" font-size="43.8" fill="#000">=</text>
<text transform="matrix(0.9974 0 0 1.0000 472.41 1198.80)" x="0" y="0" font-family="'Liberation Sans', 'DejaVu Sans', sans-serif" font-size="40" fill="#17202a">Distance</text>
<text transform="matrix(1.3769 0 0 1.0526 640.55 1199.40)" x="0" y="0" font-family="'Liberation Serif', 'DejaVu Serif', serif" font-size="40" font-style="italic" fill="#17202a">r</text>
<text transform="matrix(1.3267 0 0 1.0235 662.97 1204.50)" x="0" y="0" font-family="'Liberation Serif', 'DejaVu Serif', serif" font-size="25.5" fill="#17202a">G</text>
<text transform="matrix(1.4909 0 0 1.6308 691.40 1209.60)" x="0" y="0" font-family="'Liberation Serif', 'DejaVu Serif', serif" font-size="40" fill="#17202a">/</text>
<text transform="matrix(1.2059 0 0 1.0789 710.69 1199.90)" x="0" y="0" font-family="'Liberation Serif', 'DejaVu Serif', serif" font-size="40" font-style="italic" fill="#17202a">a</text>
<text transform="rotate(-90) matrix(1.0160 0 0 1.0000 -1106.05 77.00)" x="0" y="0" font-family="'Liberation Sans', 'DejaVu Sans', sans-serif" font-size="40" fill="#17202a">Relative depth</text>
<text transform="rotate(-90) matrix(1.1367 0 0 1.0357 -829.60 76.70)" x="0" y="0" font-family="'Liberation Serif', 'DejaVu Serif', serif" font-size="43" font-style="italic" fill="#17202a">D</text>
<text transform="rotate(-90) matrix(1.4500 0 0 1.4964 -791.70 87.00)" x="0" y="0" font-family="'Liberation Serif', 'DejaVu Serif', serif" font-size="43" fill="#17202a">/</text>
<text transform="rotate(-90) matrix(1.0933 0 0 1.0357 -769.80 76.70)" x="0" y="0" font-family="'Liberation Serif', 'DejaVu Serif', serif" font-size="43" font-style="italic" fill="#17202a">D</text>
<text transform="rotate(-90) matrix(1.3930 0 0 1.0000 -735.79 82.00)" x="0" y="0" font-family="'Liberation Serif', 'DejaVu Serif', serif" font-size="25.5" fill="#17202a">CZ−serial</text>
</svg></body></html>
